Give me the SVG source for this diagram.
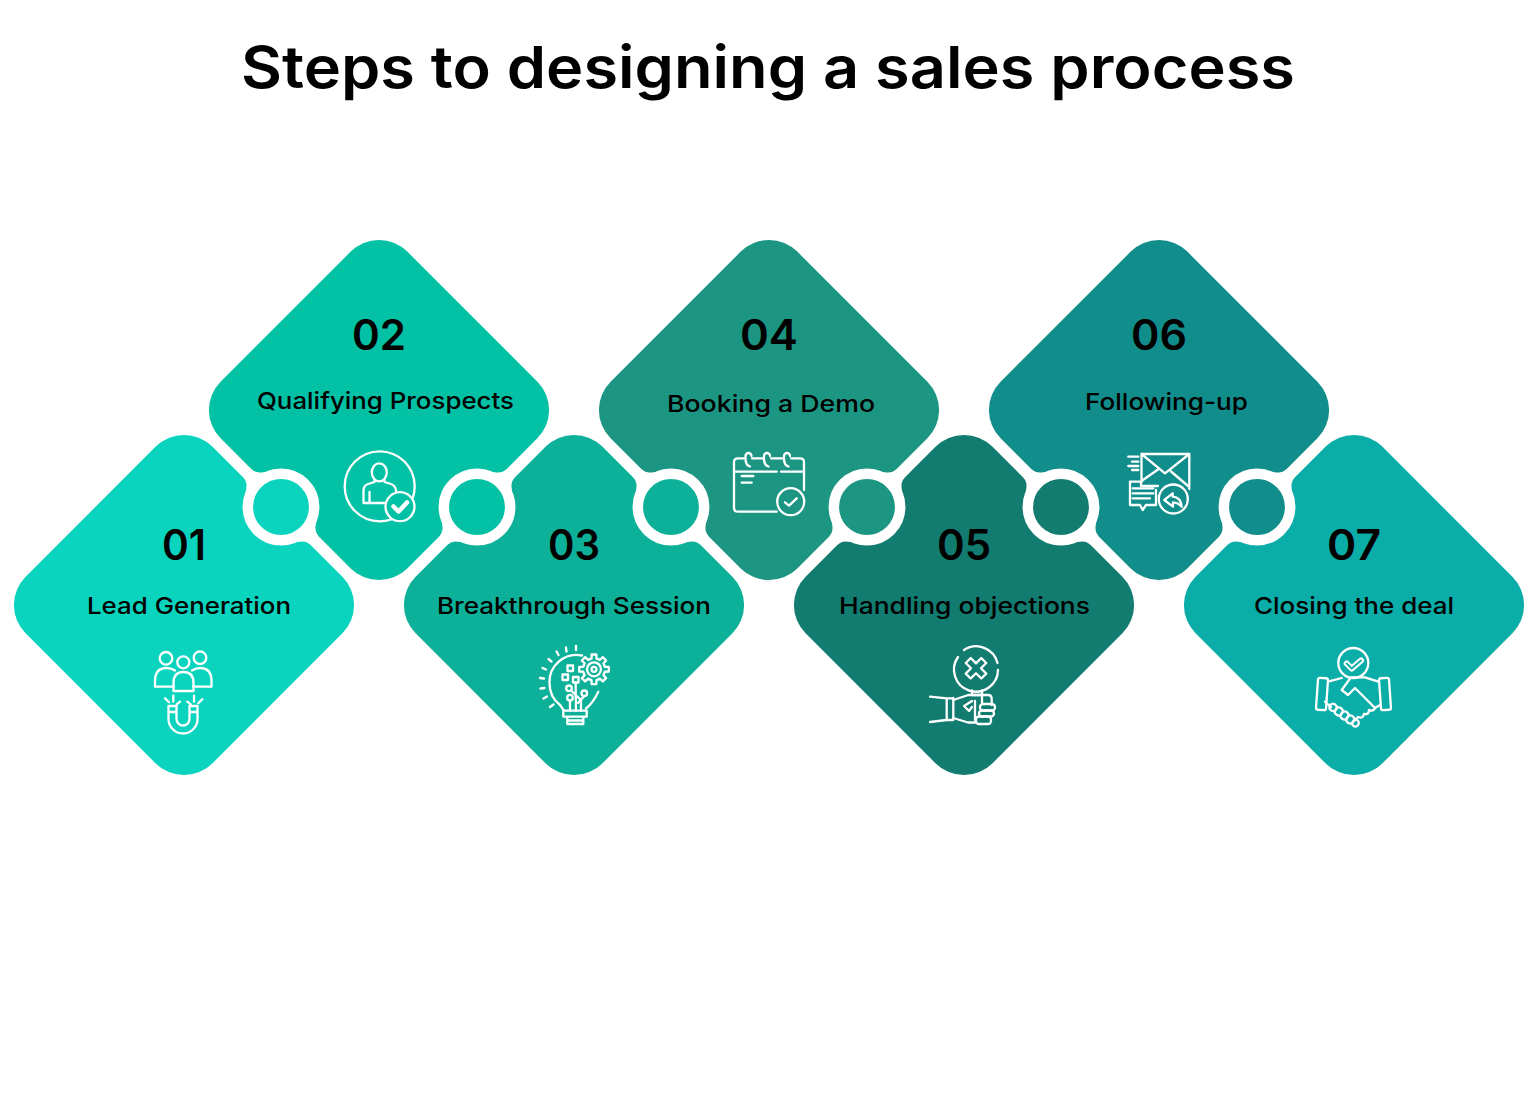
<svg xmlns="http://www.w3.org/2000/svg" width="1536" height="1120" viewBox="0 0 1536 1120">
<style>
text{font-family:"Inter","Liberation Sans",sans-serif;fill:#000}
.title{font-size:58px;font-weight:600}
.num{font-size:42px;font-weight:600}
.lab{font-size:23.500px;font-weight:500}
.ic{fill:none;stroke:#fff;stroke-width:2.300;stroke-linecap:round;stroke-linejoin:round}
.c1{fill:#0AD4BE}.c2{fill:#02C1A5}.c3{fill:#0DB199}.c4{fill:#1C9682}.c5{fill:#127C71}.c6{fill:#118D8B}.c7{fill:#0BADA8}
.ring{stroke:#fff;stroke-width:10.500}
</style>
<defs>
<rect id="d" x="-132" y="-132" width="264" height="264" rx="40"/>
<path id="neck" fill="#fff" d="M-47,-6 Q-41,-6 -36.500,-13 L36.500,-13 Q41,-6 47,-6 L47,6 Q41,6 36.500,13 L-36.500,13 Q-41,6 -47,6 Z"/>
<path id="tooth" d="M10.160,-4.210 L10.720,-2.470 L14.800,-2.350 V2.350 L10.720,2.470 L10.160,4.210"/>
</defs>
<rect width="1536" height="1120" fill="#fff"/>
<text class="title" x="241" y="88" textLength="1054" lengthAdjust="spacingAndGlyphs">Steps to designing a sales process</text>

<g id="node-01">
<use href="#d" class="c1" transform="translate(184 605) rotate(45)"/>
<text class="num" x="162" y="560" textLength="44" lengthAdjust="spacingAndGlyphs">01</text>
<text class="lab" x="87" y="614" textLength="204" lengthAdjust="spacingAndGlyphs">Lead Generation</text>
<g class="ic">
<circle cx="166" cy="658.300" r="6.300"/><circle cx="183.300" cy="662.300" r="6"/><circle cx="200" cy="657.700" r="6.300"/>
<path d="M174,686.700H155V681Q155,668 166.500,668Q171,668 175,670.500"/>
<path d="M193,686.700H211.500V681Q211.500,668 200,668Q196,668 192,670.500"/>
<path d="M173.500,691V683Q173.500,672 183.500,672Q193.500,672 193.500,683V691Z"/>
<path d="M168.500,706H176.500V719A6.500,6.500 0 0 0 189.500,719V706H197.500V719A14.500,14.500 0 0 1 168.500,719ZM168.500,712H176.500M189.500,712H197.500"/>
<path d="M165,698.300L169,702.300M173.300,695.700V701.700M180,701.700L176.700,704.300M187.300,701.700L190.700,704.300M194,695.700V701.700M202.300,699.300L198.300,703.300"/>
</g>
</g>

<g id="node-02">
<use href="#d" class="c2" transform="translate(379 410) rotate(45)"/>
<text class="num" x="352" y="350" textLength="54" lengthAdjust="spacingAndGlyphs">02</text>
<text class="lab" x="257" y="409" textLength="257" lengthAdjust="spacingAndGlyphs">Qualifying Prospects</text>
<g class="ic">
<circle cx="379.700" cy="486.300" r="35"/>
<ellipse cx="379.300" cy="472.300" rx="7.500" ry="9"/>
<path d="M374.500,480V482L368,484Q363.500,485.500 363.500,491V503H385M384.500,480V482L391,484Q395.500,485.500 396,491M369.500,492V503"/>
<circle cx="400" cy="506.700" r="14.500" class="c2"/>
<path d="M393.500,506.500L398.500,511.500L407,502.500" stroke-width="4.500"/>
</g>
</g>

<g id="node-03">
<use href="#d" class="c3" transform="translate(574 605) rotate(45)"/>
<text class="num" x="548" y="560" textLength="52" lengthAdjust="spacingAndGlyphs">03</text>
<text class="lab" x="437" y="614" textLength="274" lengthAdjust="spacingAndGlyphs">Breakthrough Session</text>
<g class="ic">
<path d="M582,655.500A27,27 0 0 0 549.500,683Q549.500,697 560,705L564,710.700M598.300,691.700Q593,703 586,708.500"/>
<path d="M563.300,710.700H586.700V716.700H563.300ZM567.300,716.700V724H583.300V716.700M567.300,720.500H583.300"/>
<g transform="translate(594 669.300)">
<use href="#tooth"/><use href="#tooth" transform="rotate(45)"/><use href="#tooth" transform="rotate(90)"/><use href="#tooth" transform="rotate(135)"/><use href="#tooth" transform="rotate(180)"/><use href="#tooth" transform="rotate(225)"/><use href="#tooth" transform="rotate(270)"/><use href="#tooth" transform="rotate(315)"/>
<circle r="7"/><circle r="2.500"/>
</g>
<rect x="567.500" y="665.500" width="5.500" height="5.500"/><rect x="562.500" y="674.500" width="5.500" height="5.500"/><rect x="573" y="677" width="5.500" height="5.500"/>
<circle cx="569" cy="688.300" r="2.800"/><circle cx="570" cy="697.700" r="2.800"/><circle cx="584.300" cy="693.300" r="2.800"/>
<path d="M570,700.500V710.700M571,690.500L581,700V710.700M575.700,682.500V695L576,710.700M584.300,696L578,703"/>
<path d="M576,646V650M566,647.500L566.500,651.500M556.500,651.500L558.500,655M548.500,659L551.500,661.500M542.500,668L546,669.500M540,678L544,678.500M540.500,688.500L544.500,688M543.500,698.500L547,696.500M550,707L553.500,704.500"/>
</g>
</g>

<g id="node-04">
<use href="#d" class="c4" transform="translate(769 410) rotate(45)"/>
<text class="num" x="740" y="350" textLength="58" lengthAdjust="spacingAndGlyphs">04</text>
<text class="lab" x="667" y="412" textLength="208" lengthAdjust="spacingAndGlyphs">Booking a Demo</text>
<g class="ic">
<path d="M776.700,511.700H738Q734,511.700 734,507.700V462Q734,458.300 738,458.300H744M752,458.300H763M771,458.300H783M791,458.300H800Q804,458.300 804,462V490"/>
<path d="M734,471.700H776.700M781,471.700H804M741.700,476H753.300M741.700,482.700H751.700"/>
<path d="M745.500,459V456A3,3 0 0 1 751.500,456M745.500,459Q745.500,465 750,466.500M764,459V456A3,3 0 0 1 770,456M764,459Q764,465 768.500,466.500M784,459V456A3,3 0 0 1 790,456M784,459Q784,465 788.500,466.500"/>
<circle cx="790.700" cy="501.700" r="13.500"/>
<path d="M785,502.300L789,505.700L796.700,498.300"/>
</g>
</g>

<g id="node-05">
<use href="#d" class="c5" transform="translate(964 605) rotate(45)"/>
<text class="num" x="937" y="560" textLength="54" lengthAdjust="spacingAndGlyphs">05</text>
<text class="lab" x="839" y="614" textLength="251" lengthAdjust="spacingAndGlyphs">Handling objections</text>
<g class="ic">
<path d="M958,657A22,22 0 1 0 998,670M997.500,663A22,22 0 0 0 964,650"/>
<path transform="translate(976 668.300) rotate(45)" d="M-3.500,-11H3.500V-3.500H11V3.500H3.500V11H-3.500V3.500H-11V-3.500H-3.500Z"/>
<path d="M972,690.500V695H982V690.500"/>
<path d="M930,696.700L946.700,698.300V720L930,722M953.300,698V720M946.700,698.300H953.300M946.700,720H953.300"/>
<path d="M953.300,700L968.300,695H988Q991.700,695 991.700,699V705M953.300,718L968,722.500H976M972,701L964,706L969,711L972,707M975,701V720M982,695V703"/>
<rect x="980" y="704" width="15" height="6.500" rx="3"/><rect x="979" y="710.500" width="15" height="6" rx="3"/><rect x="976" y="716.500" width="15" height="7.500" rx="3"/>
</g>
</g>

<g id="node-06">
<use href="#d" class="c6" transform="translate(1159 410) rotate(45)"/>
<text class="num" x="1131" y="350" textLength="56" lengthAdjust="spacingAndGlyphs">06</text>
<text class="lab" x="1085" y="410" textLength="163" lengthAdjust="spacingAndGlyphs">Following-up</text>
<g class="ic">
<path d="M1141.500,481V454H1189.300V489M1141.500,454L1165,473.300L1189.300,454M1141.500,481L1158,469.500M1189.300,487L1171,471.500"/>
<path d="M1128.300,456.700H1138.300M1132,461.700H1138.300M1128.300,466H1138.300M1132,470H1138.300"/>
<path d="M1142,481.700H1130V505H1140L1142.700,510L1146,505H1156V490M1141,481.700V486H1158"/>
<path d="M1132.700,488.300H1153.300M1132.700,493.300H1153.300M1132.700,498.300H1150"/>
<circle cx="1173.300" cy="499" r="14.500" class="c6"/>
<path d="M1164.300,500L1172.700,493.300V496.700Q1181,497.500 1181.700,506.700Q1178,502.500 1173,502.300V506.700Z"/>
</g>
</g>

<g id="node-07">
<use href="#d" class="c7" transform="translate(1354 605) rotate(45)"/>
<text class="num" x="1327" y="560" textLength="54" lengthAdjust="spacingAndGlyphs">07</text>
<text class="lab" x="1254" y="614" textLength="200" lengthAdjust="spacingAndGlyphs">Closing the deal</text>
<g class="ic">
<circle cx="1353.300" cy="663" r="15"/>
<path d="M1346.700,663.500L1351.700,668.500L1361,660.500" stroke-width="6"/>
<path d="M1346.700,663.500L1351.700,668.500L1361,660.500" style="stroke:#0BADA8;stroke-width:1.800"/>
<rect x="1317" y="678" width="10" height="32" rx="2" transform="rotate(4 1322 694)"/><rect x="1380" y="678" width="10" height="32" rx="2" transform="rotate(-4 1385 694)"/>
<path d="M1328,681.700L1341.700,678M1378.300,681.700L1365,677.300H1351L1341.700,690L1348,695L1355,688L1375,708L1380,705M1325,701.700L1331,707"/>
<path d="M1375,708Q1373,712 1369,710Q1369,715 1364,714Q1363,719 1358,717L1354,721"/>
<g transform="rotate(35 1343 715)"><rect x="1327" y="711" width="7" height="7" rx="3"/><rect x="1334" y="710.500" width="7" height="8" rx="3"/><rect x="1341" y="710.500" width="7" height="8" rx="3"/><rect x="1348" y="710.500" width="7" height="8" rx="3"/><rect x="1355" y="711" width="6" height="7" rx="3"/></g>
</g>
</g>

<g id="connectors">
<use href="#neck" transform="translate(281 507) rotate(45)"/>
<use href="#neck" transform="translate(477 507) rotate(-45)"/>
<use href="#neck" transform="translate(671 507) rotate(45)"/>
<use href="#neck" transform="translate(867 507) rotate(-45)"/>
<use href="#neck" transform="translate(1061 507) rotate(45)"/>
<use href="#neck" transform="translate(1257 507) rotate(-45)"/>
<circle class="ring c1" cx="281" cy="507" r="33.200"/>
<circle class="ring c2" cx="477" cy="507" r="33.200"/>
<circle class="ring c3" cx="671" cy="507" r="33.200"/>
<circle class="ring c4" cx="867" cy="507" r="33.200"/>
<circle class="ring c5" cx="1061" cy="507" r="33.200"/>
<circle class="ring c6" cx="1257" cy="507" r="33.200"/>
</g>
</svg>
